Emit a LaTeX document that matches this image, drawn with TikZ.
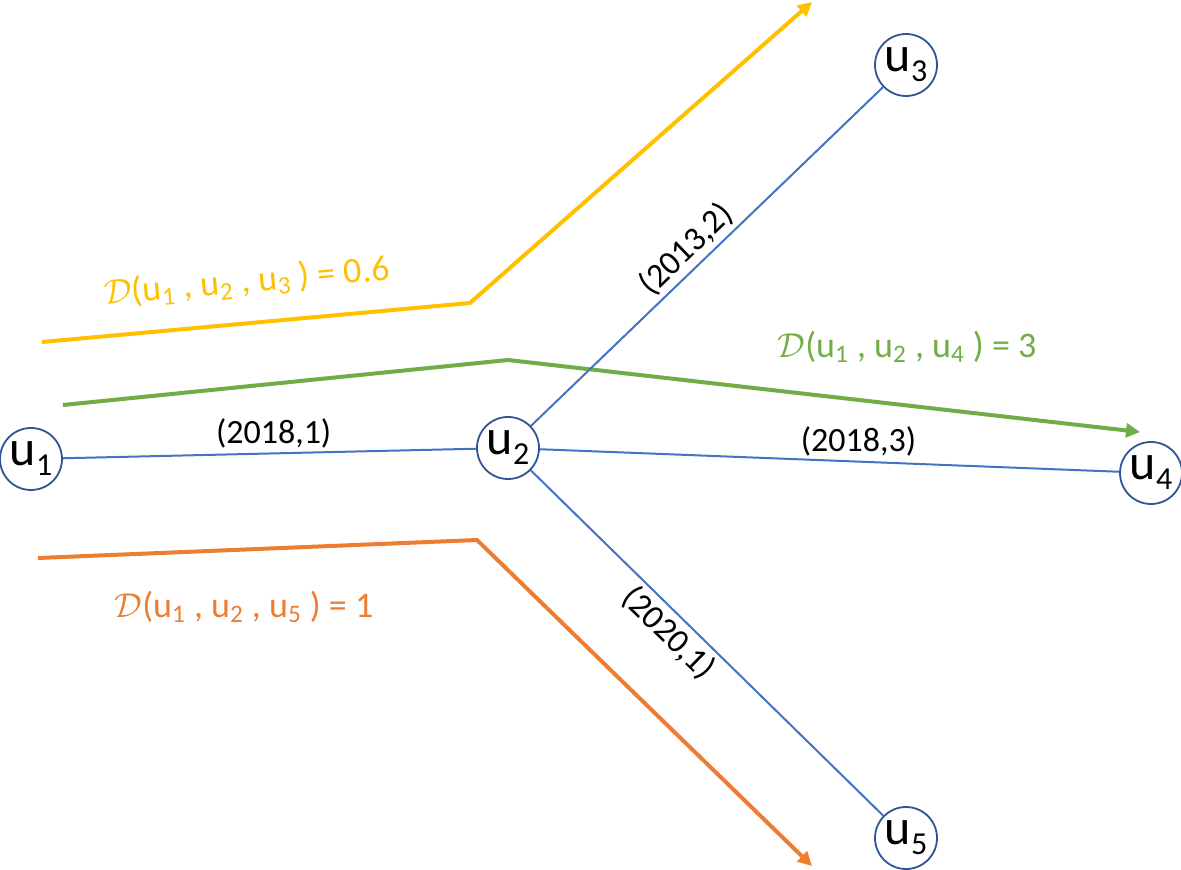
\documentclass[tikz,border=0pt]{standalone}
\usepackage{fontspec}
\setmainfont{Carlito}
\usetikzlibrary{arrows.meta}
\definecolor{edgeblue}{HTML}{4472C4}
\definecolor{nodeblue}{HTML}{2F5597}
\definecolor{ygold}{HTML}{FFC000}
\definecolor{ggreen}{HTML}{70AD47}
\definecolor{oorange}{HTML}{ED7D31}
\newcommand{\nsub}[1]{\raisebox{-0.2em}{\fontsize{16}{18}\selectfont #1}}
\begin{document}
\begin{tikzpicture}[x=0.5pt,y=-0.5pt,
  unode/.style={circle,draw=nodeblue,line width=0.9pt,fill=white,minimum size=31pt,inner sep=0pt,font=\fontsize{25}{29}\selectfont},
  edge/.style={draw=edgeblue,line width=1pt},
  elabel/.style={font=\fontsize{17}{20}\selectfont,inner sep=2pt},
  flow/.style={line width=2pt,-{Triangle[length=7pt,width=7pt]}},
  dlabel/.style={font=\fontsize{18}{22}\selectfont}
]
\useasboundingbox (0,0) rectangle (1181,870);
% colored paths
\coordinate (ys) at (42,342);
\coordinate (yb) at (470,303);
\coordinate (ye) at (812,2);
\coordinate (gs) at (63,405);
\coordinate (gb) at (508,360);
\coordinate (ge) at (1140,432);
\coordinate (os) at (38,558);
\coordinate (ob) at (477,540);
\coordinate (oe) at (812,866);
\draw[flow,ygold] (ys) -- (yb) -- (ye);
\draw[flow,ggreen] (gs) -- (gb) -- (ge);
\draw[flow,oorange] (os) -- (ob) -- (oe);
\node[dlabel,text=ygold,rotate=5] (ly) at (247,282) {$\mathcal{D}$(u\textsubscript{1} , u\textsubscript{2} , u\textsubscript{3} ) = 0.6};
\node[dlabel,text=ggreen] (lg) at (907,347) {$\mathcal{D}$(u\textsubscript{1} , u\textsubscript{2} , u\textsubscript{4} ) = 3};
\node[dlabel,text=oorange] (lo) at (244,607) {$\mathcal{D}$(u\textsubscript{1} , u\textsubscript{2} , u\textsubscript{5} ) = 1};
% nodes
\node[unode] (u1) at (31,459) {u\nsub{1}};
\node[unode] (u2) at (508,448) {u\nsub{2}};
\node[unode] (u3) at (906,65) {u\nsub{3}};
\node[unode] (u4) at (1151,473) {u\nsub{4}};
\node[unode] (u5) at (906,838) {u\nsub{5}};
% edges
\draw[edge] (u1) -- node[elabel,above,pos=0.51] {(2018,1)} (u2);
\draw[edge] (u2) -- node[elabel,above,pos=0.55] {(2018,3)} (u4);
\draw[edge] (u2) -- node[elabel,sloped,above,pos=0.48] {(2013,2)} (u3);
\draw[edge] (u2) -- node[elabel,sloped,below,pos=0.43] {(2020,1)} (u5);
\end{tikzpicture}
\end{document}
